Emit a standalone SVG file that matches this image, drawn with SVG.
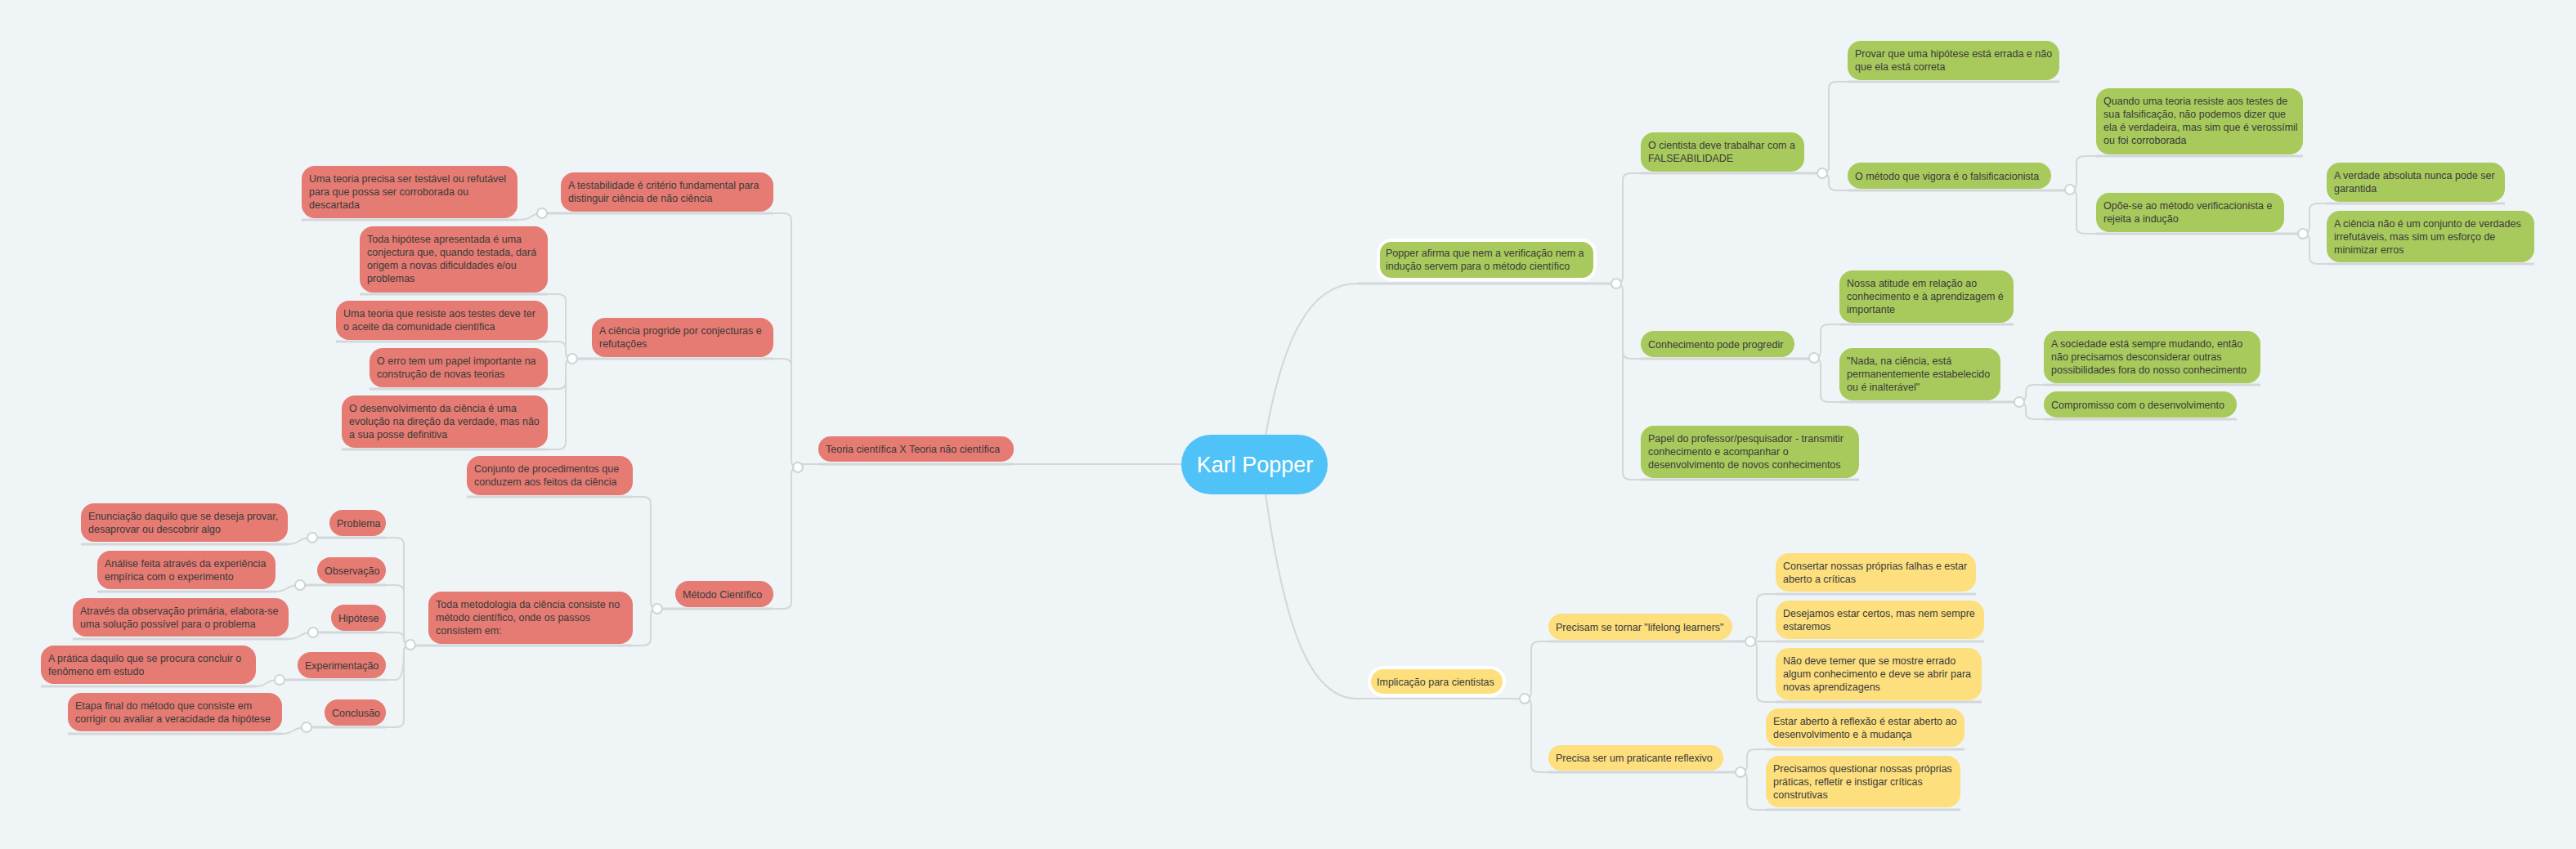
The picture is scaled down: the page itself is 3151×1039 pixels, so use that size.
<svg xmlns="http://www.w3.org/2000/svg" width="3151" height="1039" viewBox="0 0 3151 1039">
<style>
text{font-family:"Liberation Sans",Arial,sans-serif;font-size:12.5px;fill:#3a3a3a}
.r{fill:#e57b72}.g{fill:#a8ca5c}.y{fill:#fddf7e}
.u{stroke:#d3d7da;stroke-width:3;fill:none}
.c{stroke:#d3d7da;stroke-width:2;fill:none}
.d{fill:#fff;stroke:#cfd3d6;stroke-width:2}
.w{stroke:#fff;stroke-width:4}
</style>
<rect width="3151" height="1039" fill="#eff4f7"/>
<g id="connectors">
<path class="c" d="M1548 534 C1568 420,1600 347,1660 347 H1977"/>
<path class="c" d="M1548 604 C1570 760,1600 855,1660 855 H1865"/>
<path class="c" d="M1445 568 H976"/>
<!-- right -->
<path class="c" d="M1977 347 Q1985 347 1985 339 V220 Q1985 212 1995 212 H2007"/>
<path class="c" d="M1977 347 Q1985 347 1985 355 V430 Q1985 439 1995 439 H2007"/>
<path class="c" d="M1985 430 V578 Q1985 587 1995 587 H2007"/>
<path class="u" d="M2207 212 H2229"/>
<path class="c" d="M2229 212 Q2237 212 2237 204 V108 Q2237 100 2247 100 H2260"/>
<path class="c" d="M2229 212 Q2237 212 2237 220 V225 Q2237 233 2247 233 H2260"/>
<path class="u" d="M2509 233 H2532"/>
<path class="c" d="M2532 232 Q2540 232 2540 224 V199 Q2540 191 2550 191 H2564"/>
<path class="c" d="M2532 232 Q2540 232 2540 240 V278 Q2540 286 2550 286 H2564"/>
<path class="u" d="M2794 286 H2817"/>
<path class="c" d="M2817 286 Q2825 286 2825 278 V257 Q2825 249 2835 249 H2846"/>
<path class="c" d="M2817 286 Q2825 286 2825 294 V315 Q2825 323 2835 323 H2846"/>
<path class="u" d="M2195 439 H2219"/>
<path class="c" d="M2219 438 Q2227 438 2227 430 V405 Q2227 397 2237 397 H2250"/>
<path class="c" d="M2219 438 Q2227 438 2227 446 V484 Q2227 492 2237 492 H2250"/>
<path class="u" d="M2447 492 H2470"/>
<path class="c" d="M2470 492 Q2478 492 2478 484 V479 Q2478 471 2488 471 H2500"/>
<path class="c" d="M2470 492 Q2478 492 2478 500 V505 Q2478 513 2488 513 H2500"/>
<path class="c" d="M1865 855 Q1873 855 1873 847 V793 Q1873 785 1883 785 H1894"/>
<path class="c" d="M1865 855 Q1873 855 1873 863 V937 Q1873 945 1883 945 H1894"/>
<path class="u" d="M2119 785 H2141"/>
<path class="c" d="M2141 785 Q2149 785 2149 777 V735 Q2149 727 2159 727 H2172"/>
<path class="c" d="M2141 785 H2172"/>
<path class="c" d="M2141 785 Q2149 785 2149 793 V851 Q2149 859 2159 859 H2172"/>
<path class="u" d="M2108 945 H2129"/>
<path class="c" d="M2129 945 Q2137 945 2137 937 V925 Q2137 917 2147 917 H2160"/>
<path class="c" d="M2129 945 Q2137 945 2137 953 V983 Q2137 991 2147 991 H2160"/>
<!-- left -->
<path class="c" d="M976 572 Q968 572 968 564 V269 Q968 261 958 261 H946"/>
<path class="c" d="M968 447 Q968 439 958 439 H946"/>
<path class="c" d="M976 572 Q968 572 968 580 V737 Q968 745 958 745 H946"/>
<path class="u" d="M686 261 H663"/>
<path class="c" d="M663 261 Q655 261 650 265 Q645 269 633 269"/>
<path class="u" d="M724 439 H700"/>
<path class="c" d="M700 439 Q692 439 692 431 V368 Q692 360 682 360 H670"/>
<path class="c" d="M700 439 Q692 439 692 431 V426 Q692 418 682 418 H670"/>
<path class="c" d="M700 439 Q692 439 692 447 V468 Q692 476 682 476 H670"/>
<path class="c" d="M700 439 Q692 439 692 447 V542 Q692 550 682 550 H670"/>
<path class="u" d="M826 745 H804"/>
<path class="c" d="M804 745 Q796 745 796 737 V616 Q796 608 786 608 H774"/>
<path class="c" d="M804 745 Q796 745 796 753 V782 Q796 790 786 790 H774"/>
<path class="u" d="M524 790 H502"/>
<path class="c" d="M502 789 Q494 789 494 781 V666 Q494 658 484 658 H472"/>
<path class="c" d="M502 789 Q494 789 494 781 V724 Q494 716 484 716 H472"/>
<path class="c" d="M502 789 Q494 789 494 781 Q494 774 484 774 H472"/>
<path class="c" d="M502 789 Q494 789 494 797 Q494 832 484 832 H472"/>
<path class="c" d="M502 789 Q494 789 494 797 V882 Q494 890 484 890 H472"/>
<path class="u" d="M403 658 H382"/><path class="c" d="M382 658 Q372 658 366 662 Q360 666 352 666"/>
<path class="u" d="M388 716 H367"/><path class="c" d="M367 716 Q357 716 351 720 Q345 724 337 724"/>
<path class="u" d="M405 774 H383"/><path class="c" d="M383 774 Q373 774 367 778 Q361 782 353 782"/>
<path class="u" d="M364 832 H342"/><path class="c" d="M342 832 Q332 832 326 836 Q320 840 313 840"/>
<path class="u" d="M397 890 H375"/><path class="c" d="M375 890 Q365 890 359 894 Q353 898 345 898"/>
</g>
<g id="karl"><rect x="1445" y="532" width="179" height="73" rx="36" fill="#4fc3f7"/><text x="1535" y="578" text-anchor="middle" style="font-size:27px;fill:#fff">Karl Popper</text></g>
<!-- right green -->
<g id="n1"><rect class="g w" x="1686" y="294" width="265" height="48" rx="16"/><path class="u" d="M1660 347 H1977"/><text x="1695" y="314">Popper afirma que nem a verificação nem a</text><text x="1695" y="330">indução servem para o método científico</text></g>
<g id="n2"><rect class="g" x="2007" y="162" width="200" height="48" rx="16"/><path class="u" d="M2007 212 H2207"/><text x="2016" y="182">O cientista deve trabalhar com a</text><text x="2016" y="198">FALSEABILIDADE</text></g>
<g id="n3"><rect class="g" x="2260" y="50" width="259" height="48" rx="16"/><path class="u" d="M2260 100 H2519"/><text x="2269" y="70">Provar que uma hipótese está errada e não</text><text x="2269" y="86">que ela está correta</text></g>
<g id="n4"><rect class="g" x="2260" y="199" width="249" height="32" rx="16"/><path class="u" d="M2260 233 H2509"/><text x="2269" y="220">O método que vigora é o falsificacionista</text></g>
<g id="n5"><rect class="g" x="2564" y="108" width="253" height="81" rx="16"/><path class="u" d="M2564 191 H2817"/><text x="2573" y="128">Quando uma teoria resiste aos testes de</text><text x="2573" y="144">sua falsificação, não podemos dizer que</text><text x="2573" y="160">ela é verdadeira, mas sim que é verossímil</text><text x="2573" y="176">ou foi corroborada</text></g>
<g id="n6"><rect class="g" x="2564" y="236" width="230" height="48" rx="16"/><path class="u" d="M2564 286 H2794"/><text x="2573" y="256">Opõe-se ao método verificacionista e</text><text x="2573" y="272">rejeita a indução</text></g>
<g id="n7"><rect class="g" x="2846" y="199" width="218" height="48" rx="16"/><path class="u" d="M2846 249 H3064"/><text x="2855" y="219">A verdade absoluta nunca pode ser</text><text x="2855" y="235">garantida</text></g>
<g id="n8"><rect class="g" x="2846" y="258" width="254" height="63" rx="16"/><path class="u" d="M2846 323 H3100"/><text x="2855" y="278">A ciência não é um conjunto de verdades</text><text x="2855" y="294">irrefutáveis, mas sim um esforço de</text><text x="2855" y="310">minimizar erros</text></g>
<g id="n9"><rect class="g" x="2007" y="405" width="188" height="32" rx="16"/><path class="u" d="M2007 439 H2195"/><text x="2016" y="426">Conhecimento pode progredir</text></g>
<g id="n10"><rect class="g" x="2250" y="331" width="213" height="64" rx="16"/><path class="u" d="M2250 397 H2463"/><text x="2259" y="351">Nossa atitude em relação ao</text><text x="2259" y="367">conhecimento e à aprendizagem é</text><text x="2259" y="383">importante</text></g>
<g id="n11"><rect class="g" x="2250" y="426" width="197" height="64" rx="16"/><path class="u" d="M2250 492 H2447"/><text x="2259" y="446">"Nada, na ciência, está</text><text x="2259" y="462">permanentemente estabelecido</text><text x="2259" y="478">ou é inalterável"</text></g>
<g id="n12"><rect class="g" x="2500" y="405" width="265" height="64" rx="16"/><path class="u" d="M2500 471 H2765"/><text x="2509" y="425">A sociedade está sempre mudando, então</text><text x="2509" y="441">não precisamos desconsiderar outras</text><text x="2509" y="457">possibilidades fora do nosso conhecimento</text></g>
<g id="n13"><rect class="g" x="2500" y="479" width="236" height="32" rx="16"/><path class="u" d="M2500 513 H2736"/><text x="2509" y="500">Compromisso com o desenvolvimento</text></g>
<g id="n14"><rect class="g" x="2007" y="521" width="267" height="64" rx="16"/><path class="u" d="M2007 587 H2274"/><text x="2016" y="541">Papel do professor/pesquisador - transmitir</text><text x="2016" y="557">conhecimento e acompanhar o</text><text x="2016" y="573">desenvolvimento de novos conhecimentos</text></g>
<!-- yellow -->
<g id="y1"><rect class="y w" x="1675" y="817" width="165" height="34" rx="17"/><text x="1684" y="839">Implicação para cientistas</text></g>
<g id="y2"><rect class="y" x="1894" y="751" width="225" height="32" rx="16"/><path class="u" d="M1894 785 H2119"/><text x="1903" y="772">Precisam se tornar "lifelong learners"</text></g>
<g id="y3"><rect class="y" x="2172" y="677" width="245" height="47" rx="16"/><path class="u" d="M2172 727 H2417"/><text x="2181" y="697">Consertar nossas próprias falhas e estar</text><text x="2181" y="713">aberto a críticas</text></g>
<g id="y4"><rect class="y" x="2172" y="735" width="255" height="47" rx="16"/><path class="u" d="M2172 785 H2427"/><text x="2181" y="755">Desejamos estar certos, mas nem sempre</text><text x="2181" y="771">estaremos</text></g>
<g id="y5"><rect class="y" x="2172" y="793" width="252" height="64" rx="16"/><path class="u" d="M2172 859 H2424"/><text x="2181" y="813">Não deve temer que se mostre errado</text><text x="2181" y="829">algum conhecimento e deve se abrir para</text><text x="2181" y="845">novas aprendizagens</text></g>
<g id="y6"><rect class="y" x="1894" y="912" width="214" height="31" rx="15"/><path class="u" d="M1894 945 H2108"/><text x="1903" y="932">Precisa ser um praticante reflexivo</text></g>
<g id="y7"><rect class="y" x="2160" y="867" width="243" height="47" rx="16"/><path class="u" d="M2160 917 H2403"/><text x="2169" y="887">Estar aberto à reflexão é estar aberto ao</text><text x="2169" y="903">desenvolvimento e à mudança</text></g>
<g id="y8"><rect class="y" x="2160" y="925" width="238" height="63" rx="16"/><path class="u" d="M2160 991 H2398"/><text x="2169" y="945">Precisamos questionar nossas próprias</text><text x="2169" y="961">práticas, refletir e instigar críticas</text><text x="2169" y="977">construtivas</text></g>
<!-- left red -->
<g id="r1"><rect class="r" x="1001" y="534" width="239" height="31" rx="15"/><path class="u" d="M1001 568 H1240"/><text x="1010" y="554">Teoria científica X Teoria não científica</text></g>
<g id="r2"><rect class="r" x="686" y="211" width="260" height="48" rx="16"/><path class="u" d="M686 261 H946"/><text x="695" y="231">A testabilidade é critério fundamental para</text><text x="695" y="247">distinguir ciência de não ciência</text></g>
<g id="r3"><rect class="r" x="369" y="203" width="264" height="64" rx="16"/><path class="u" d="M369 269 H633"/><text x="378" y="223">Uma teoria precisa ser testável ou refutável</text><text x="378" y="239">para que possa ser corroborada ou</text><text x="378" y="255">descartada</text></g>
<g id="r4"><rect class="r" x="724" y="389" width="222" height="48" rx="16"/><path class="u" d="M724 439 H946"/><text x="733" y="409">A ciência progride por conjecturas e</text><text x="733" y="425">refutações</text></g>
<g id="r5"><rect class="r" x="440" y="277" width="230" height="81" rx="16"/><path class="u" d="M440 360 H670"/><text x="449" y="297">Toda hipótese apresentada é uma</text><text x="449" y="313">conjectura que, quando testada, dará</text><text x="449" y="329">origem a novas dificuldades e/ou</text><text x="449" y="345">problemas</text></g>
<g id="r6"><rect class="r" x="411" y="368" width="259" height="48" rx="16"/><path class="u" d="M411 418 H670"/><text x="420" y="388">Uma teoria que resiste aos testes deve ter</text><text x="420" y="404">o aceite da comunidade científica</text></g>
<g id="r7"><rect class="r" x="452" y="426" width="218" height="48" rx="16"/><path class="u" d="M452 476 H670"/><text x="461" y="446">O erro tem um papel importante na</text><text x="461" y="462">construção de novas teorias</text></g>
<g id="r8"><rect class="r" x="418" y="484" width="252" height="64" rx="16"/><path class="u" d="M418 550 H670"/><text x="427" y="504">O desenvolvimento da ciência é uma</text><text x="427" y="520">evolução na direção da verdade, mas não</text><text x="427" y="536">a sua posse definitiva</text></g>
<g id="r9"><rect class="r" x="826" y="711" width="120" height="32" rx="16"/><path class="u" d="M826 745 H946"/><text x="835" y="732">Método Científico</text></g>
<g id="r10"><rect class="r" x="571" y="558" width="203" height="48" rx="16"/><path class="u" d="M571 608 H774"/><text x="580" y="578">Conjunto de procedimentos que</text><text x="580" y="594">conduzem aos feitos da ciência</text></g>
<g id="r11"><rect class="r" x="524" y="724" width="250" height="64" rx="16"/><path class="u" d="M524 790 H774"/><text x="533" y="744">Toda metodologia da ciência consiste no</text><text x="533" y="760">método científico, onde os passos</text><text x="533" y="776">consistem em:</text></g>
<g id="r12"><rect class="r" x="403" y="624" width="69" height="32" rx="16"/><path class="u" d="M403 658 H472"/><text x="412" y="645">Problema</text></g>
<g id="r13"><rect class="r" x="388" y="682" width="84" height="32" rx="16"/><path class="u" d="M388 716 H472"/><text x="397" y="703">Observação</text></g>
<g id="r14"><rect class="r" x="405" y="740" width="67" height="32" rx="16"/><path class="u" d="M405 774 H472"/><text x="414" y="761">Hipótese</text></g>
<g id="r15"><rect class="r" x="364" y="798" width="108" height="32" rx="16"/><path class="u" d="M364 832 H472"/><text x="373" y="819">Experimentação</text></g>
<g id="r16"><rect class="r" x="397" y="856" width="75" height="32" rx="16"/><path class="u" d="M397 890 H472"/><text x="406" y="877">Conclusão</text></g>
<g id="r17"><rect class="r" x="99" y="616" width="253" height="47" rx="16"/><path class="u" d="M99 666 H352"/><text x="108" y="636">Enunciação daquilo que se deseja provar,</text><text x="108" y="652">desaprovar ou descobrir algo</text></g>
<g id="r18"><rect class="r" x="119" y="674" width="218" height="47" rx="16"/><path class="u" d="M119 724 H337"/><text x="128" y="694">Análise feita através da experiência</text><text x="128" y="710">empírica com o experimento</text></g>
<g id="r19"><rect class="r" x="89" y="732" width="264" height="47" rx="16"/><path class="u" d="M89 782 H353"/><text x="98" y="752">Através da observação primária, elabora-se</text><text x="98" y="768">uma solução possível para o problema</text></g>
<g id="r20"><rect class="r" x="50" y="790" width="263" height="47" rx="16"/><path class="u" d="M50 840 H313"/><text x="59" y="810">A prática daquilo que se procura concluir o</text><text x="59" y="826">fenômeno em estudo</text></g>
<g id="r21"><rect class="r" x="83" y="848" width="262" height="47" rx="16"/><path class="u" d="M83 898 H345"/><text x="92" y="868">Etapa final do método que consiste em</text><text x="92" y="884">corrigir ou avaliar a veracidade da hipótese</text></g>
<g id="dots">
<circle class="d" cx="1977" cy="347" r="6"/><circle class="d" cx="2229" cy="212" r="6"/><circle class="d" cx="2532" cy="232" r="6"/><circle class="d" cx="2817" cy="286" r="6"/><circle class="d" cx="2219" cy="438" r="6"/><circle class="d" cx="2470" cy="492" r="6"/><circle class="d" cx="1865" cy="855" r="6"/><circle class="d" cx="2141" cy="785" r="6"/><circle class="d" cx="2129" cy="945" r="6"/>
<circle class="d" cx="976" cy="572" r="6"/><circle class="d" cx="663" cy="261" r="6"/><circle class="d" cx="700" cy="439" r="6"/><circle class="d" cx="804" cy="745" r="6"/><circle class="d" cx="502" cy="789" r="6"/><circle class="d" cx="382" cy="658" r="6"/><circle class="d" cx="367" cy="716" r="6"/><circle class="d" cx="383" cy="774" r="6"/><circle class="d" cx="342" cy="832" r="6"/><circle class="d" cx="375" cy="890" r="6"/>
</g>
</svg>
